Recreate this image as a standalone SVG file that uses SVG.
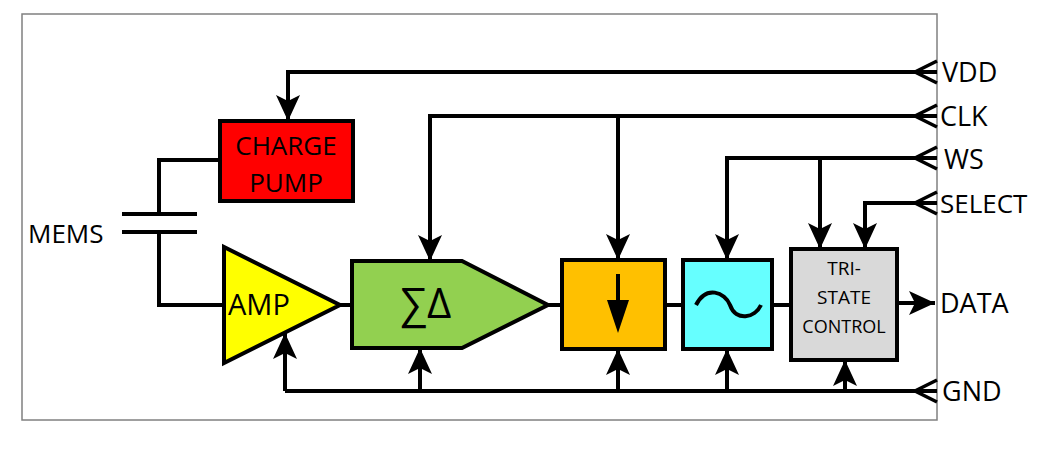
<svg xmlns="http://www.w3.org/2000/svg" width="1059" height="453" viewBox="0 0 1059 453">
<defs>
<marker id="ah2" markerWidth="28" markerHeight="24" refX="26" refY="12" orient="auto" markerUnits="userSpaceOnUse" viewBox="0 0 28 24"><path d="M0,0 L26,12 L0,24 L6,12 Z" fill="#000"/></marker>
</defs>
<style>
.w{fill:none;stroke:#000;stroke-width:4}
.a{fill:none;stroke:#000;stroke-width:4;marker-end:url(#ah2)}
.b{stroke:#000;stroke-width:4}
.t{font-family:"Open Sans","Liberation Sans",sans-serif;fill:#000}
.pin{fill:none;stroke:#000;stroke-width:3.5}
</style>
<rect x="22" y="14" width="915" height="406" fill="#fff" stroke="#808080" stroke-width="1.5"/>
<g id="connectors">
<path class="a" d="M937,72 H288 V121"/>
<path class="a" d="M937,116 H430 V261"/>
<path class="a" d="M618,116 V260"/>
<path class="a" d="M937,158 H727 V260"/>
<path class="a" d="M820,158 V249"/>
<path class="a" d="M937,203 H865 V249"/>
<path class="w" d="M220,160 H159 V214"/>
<path class="w" d="M159,232 V305 H224"/>
<path class="w" d="M340,305 H352"/>
<path class="w" d="M548,305 H562"/>
<path class="w" d="M665,305 H683"/>
<path class="w" d="M772,305 H791"/>
<path class="a" d="M897,303 H935"/>
<path class="w" d="M937,391 H285"/>
<path class="a" d="M285,391 V333"/>
<path class="a" d="M420,391 V348"/>
<path class="a" d="M618,391 V349"/>
<path class="a" d="M727,391 V349"/>
<path class="a" d="M845,391 V360"/>
<path class="pin" d="M937,61 L915,72 L937,83 M937,105 L915,116 L937,127 M937,147 L915,158 L937,169 M937,192 L915,203 L937,214 M937,380 L915,391 L937,402"/>
</g>
<g id="mems">
<path class="w" d="M122,214 H197 M122,232 H197"/>
<text class="t" x="28" y="243" font-size="26">MEMS</text>
</g>
<g id="chargepump">
<rect x="220" y="121" width="133" height="80" fill="#FF0000" class="b"/>
<text class="t" x="286" y="155" font-size="26" text-anchor="middle">CHARGE</text>
<text class="t" x="286" y="192" font-size="26" text-anchor="middle">PUMP</text>
</g>
<g id="amp">
<polygon points="224,247 224,363 340,305" fill="#FFFF00" class="b"/>
<text class="t" x="228" y="315" font-size="29">AMP</text>
</g>
<g id="sigmadelta">
<polygon points="352,261 462,261 548,305 462,348 352,348" fill="#92D050" class="b"/>
<text class="t" x="426" y="318" font-size="42" text-anchor="middle">∑Δ</text>
</g>
<g id="decimator">
<rect x="562" y="260" width="103" height="89" fill="#FFC000" class="b"/>
<path d="M618,274 V310" stroke="#000" stroke-width="4"/>
<path d="M607,300 L618,333 L629,300 Z" fill="#000"/>
</g>
<g id="filter">
<rect x="683" y="260" width="89" height="89" fill="#66FFFF" class="b"/>
<path class="w" d="M696,305 C706,285 725,292 730,305 C736,322 755,318 761,305"/>
</g>
<g id="tristate">
<rect x="791" y="249" width="106" height="111" fill="#D9D9D9" class="b"/>
<text class="t" x="844" y="275" font-size="19" text-anchor="middle">TRI-</text>
<text class="t" x="844" y="304" font-size="19" text-anchor="middle">STATE</text>
<text class="t" x="844" y="333" font-size="18" text-anchor="middle">CONTROL</text>
</g>
<g id="labels">
<text class="t" x="942" y="82" font-size="27">VDD</text>
<text class="t" x="940" y="126" font-size="27">CLK</text>
<text class="t" x="944" y="169" font-size="27">WS</text>
<text class="t" x="940" y="213" font-size="26">SELECT</text>
<text class="t" x="940" y="313" font-size="27">DATA</text>
<text class="t" x="942" y="401" font-size="27">GND</text>
</g>
</svg>
